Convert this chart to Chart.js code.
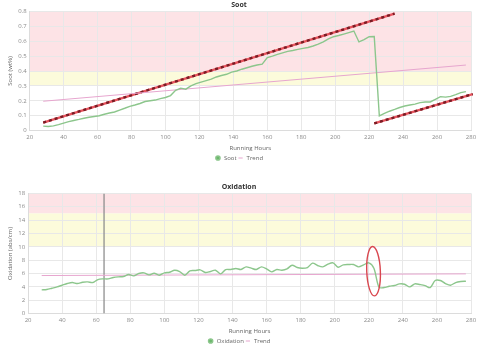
<!DOCTYPE html>
<html>
<head>
<meta charset="utf-8">
<script src="https://cdn.jsdelivr.net/npm/chart.js@4.4.0/dist/chart.umd.min.js"></script>
<style>
  html, body { margin: 0; padding: 0; background: #fff; }
  #wrap { width: 480px; height: 344px; position: relative; overflow: hidden; }
  .box { position: absolute; left: 0; width: 480px; }
  #top { top: 0; height: 171px; }
  #bottom { top: 182px; height: 172px; }
</style>
</head>
<body>
<div id="wrap">
  <div class="box" id="top"><canvas id="sootChart"></canvas></div>
  <div class="box" id="bottom"><canvas id="oxChart"></canvas></div>
</div>
<script>
// running hours, sampled every 3 h
var hours = [28,31,34,37,40,43,46,49,52,55,58,61,64,67,70,73,76,79,82,85,88,91,94,97,100,
  103,106,109,112,115,118,121,124,127,130,133,136,139,142,145,148,151,154,157,160,163,166,
  169,172,175,178,181,184,187,190,193,196,199,202,205,208,211,214,217,220,223,226,229,232,
  235,238,241,244,247,250,253,256,259,262,265,268,271,274,277];

var sootValues = [0.030,0.028,0.032,0.040,0.050,0.060,0.068,0.075,0.083,0.090,0.095,0.100,
  0.110,0.118,0.125,0.138,0.150,0.163,0.172,0.182,0.195,0.200,0.205,0.215,0.222,0.235,0.270,
  0.285,0.278,0.300,0.315,0.325,0.335,0.345,0.360,0.370,0.378,0.392,0.400,0.412,0.422,0.432,
  0.440,0.446,0.490,0.500,0.512,0.522,0.532,0.538,0.545,0.552,0.558,0.568,0.580,0.595,0.615,
  0.630,0.638,0.648,0.658,0.668,0.595,0.610,0.630,0.632,0.098,0.115,0.130,0.142,0.155,0.165,
  0.172,0.178,0.188,0.192,0.192,0.210,0.228,0.225,0.230,0.242,0.255,0.262];

var oxValues = [3.55,3.60,3.80,4.00,4.25,4.50,4.65,4.50,4.70,4.75,4.65,5.10,5.20,5.20,5.40,
  5.50,5.55,5.85,5.65,6.00,6.10,5.80,6.05,5.75,6.10,6.20,6.50,6.30,5.75,6.40,6.45,6.55,6.15,
  6.30,6.50,5.95,6.60,6.60,6.75,6.60,7.00,6.80,6.60,7.00,6.70,6.25,6.60,6.50,6.70,7.25,6.90,
  6.80,6.90,7.55,7.20,7.00,7.40,7.60,6.95,7.30,7.35,7.35,7.00,7.30,7.60,6.80,3.95,3.90,4.10,
  4.20,4.45,4.40,4.00,4.45,4.35,4.20,3.90,4.95,4.95,4.50,4.25,4.65,4.80,4.85];

// trend lines (start, end)
var trendHours = [28, 277];
var sootTrend = [0.197, 0.44];
var oxTrend = [5.7, 5.95];

// hand drawn marks on the soot chart
var markA_hours = [28, 235];
var markA_values = [0.054, 0.785];
var markB_hours = [223, 281];
var markB_values = [0.048, 0.245];

// warning limits: yellow from, red from, top
var sootLimits = [0.3, 0.4, 0.8];
var oxLimits = [10, 15, 18];

var cursorHour = 64.6;
// circled spot on oxidation chart: centre hour, centre value, half width (h), half height
var circleMark = [222.8, 6.35, 4.0, 3.7];

function pts(xs, ys) {
  return xs.map(function(x, i) { return { x: x, y: ys[i] }; });
}

var bandPlugin = {
  id: 'bands',
  beforeDraw: function(chart, args, opts) {
    var ctx = chart.ctx, a = chart.chartArea, y = chart.scales.y;
    var lim = opts.limits;
    if (!lim) return;
    ctx.save();
    var yTop = y.getPixelForValue(lim[2]);
    var yRed = y.getPixelForValue(lim[1]);
    var yYel = y.getPixelForValue(lim[0]);
    ctx.fillStyle = '#fde3e6';
    ctx.fillRect(a.left, yTop, a.width, yRed - yTop);
    ctx.fillStyle = '#fcfbdb';
    ctx.fillRect(a.left, yRed, a.width, yYel - yRed);
    ctx.restore();
  }
};

var circlePlugin = {
  id: 'circleMark',
  afterDatasetsDraw: function(chart, args, opts) {
    var c = opts.mark;
    if (!c) return;
    var xs = chart.scales.x, ys = chart.scales.y, ctx = chart.ctx;
    var cx = xs.getPixelForValue(c[0]);
    var cy = ys.getPixelForValue(c[1]);
    var rx = Math.abs(xs.getPixelForValue(c[0] + c[2]) - cx);
    var ry = Math.abs(ys.getPixelForValue(c[1] + c[3]) - cy);
    ctx.save();
    ctx.strokeStyle = '#d9474f';
    ctx.lineWidth = 1.4;
    ctx.beginPath();
    ctx.ellipse(cx, cy, rx, ry, -0.04, 0, Math.PI * 2);
    ctx.stroke();
    ctx.restore();
  }
};

Chart.register(bandPlugin, circlePlugin);

Chart.defaults.font.family = "'Open Sans', 'Noto Sans', sans-serif";
Chart.defaults.font.size = 6;
Chart.defaults.color = '#8a8a8a';
Chart.defaults.animation = false;

function makeOptions(title, yTitle, yMax, yStep, limits, mark) {
  return {
    responsive: true,
    maintainAspectRatio: false,
    layout: { padding: { left: 7, right: 9, top: 0, bottom: 0 } },
    elements: { point: { radius: 0 } },
    plugins: {
      title: { display: true, text: title, color: '#333', font: { size: 7 }, padding: { top: 1, bottom: 2 } },
      legend: {
        position: 'bottom',
        labels: {
          usePointStyle: true,
          boxHeight: 3,
          boxWidth: 6,
          padding: 1,
          color: '#666',
          font: { size: 6 },
          filter: function(item) { return item.text !== ''; }
        }
      },
      tooltip: { enabled: false },
      bands: { limits: limits },
      circleMark: { mark: mark }
    },
    scales: {
      x: {
        type: 'linear', min: 20, max: 280,
        ticks: { stepSize: 20, padding: 3, font: { size: 6 } },
        grid: { color: '#e8e8e8', tickLength: 0 },
        border: { color: '#dcdcdc' },
        title: { display: true, text: 'Running Hours', color: '#666', font: { size: 6 }, padding: { top: 1, bottom: 2 } }
      },
      y: {
        min: 0, max: yMax,
        ticks: { stepSize: yStep, padding: 3, font: { size: 6 } },
        grid: { color: '#e8e8e8', tickLength: 0 },
        border: { color: '#dcdcdc' },
        title: { display: true, text: yTitle, color: '#666', font: { size: 6 }, padding: { top: 0, bottom: 1 } }
      }
    }
  };
}

new Chart(document.getElementById('sootChart'), {
  type: 'line',
  data: {
    datasets: [
      { label: 'Soot', data: pts(hours, sootValues), borderColor: '#8cc68c', backgroundColor: '#6cb86c',
        borderWidth: 1.4, pointStyle: 'circle', tension: 0 },
      { label: 'Trend', data: pts(trendHours, sootTrend), borderColor: '#e7a6cf', backgroundColor: '#e7a6cf',
        borderWidth: 1, pointStyle: 'line' },
      { label: '', data: pts(markA_hours, markA_values), borderColor: '#7a1c24', borderWidth: 2.4, borderDash: [3, 3] },
      { label: '', data: pts(markA_hours, markA_values), borderColor: '#e8545e', borderWidth: 2.4 },
      { label: '', data: pts(markB_hours, markB_values), borderColor: '#7a1c24', borderWidth: 2.4, borderDash: [3, 3], clip: false },
      { label: '', data: pts(markB_hours, markB_values), borderColor: '#e8545e', borderWidth: 2.4, clip: false }
    ]
  },
  options: makeOptions('Soot', 'Soot (wt%)', 0.8, 0.1, sootLimits, null)
});

new Chart(document.getElementById('oxChart'), {
  type: 'line',
  data: {
    datasets: [
      { label: 'Oxidation', data: pts(hours, oxValues), borderColor: '#8cc68c', backgroundColor: '#6cb86c',
        borderWidth: 1.4, pointStyle: 'circle', tension: 0.3 },
      { label: 'Trend', data: pts(trendHours, oxTrend), borderColor: '#e7a6cf', backgroundColor: '#e7a6cf',
        borderWidth: 1, pointStyle: 'line' },
      { label: '', data: pts([cursorHour, cursorHour], [0, 18]), borderColor: '#8f8f8f', borderWidth: 1.3 }
    ]
  },
  options: makeOptions('Oxidation', 'Oxidation (abs/cm)', 18, 2, oxLimits, circleMark)
});
</script>
</body>
</html>
